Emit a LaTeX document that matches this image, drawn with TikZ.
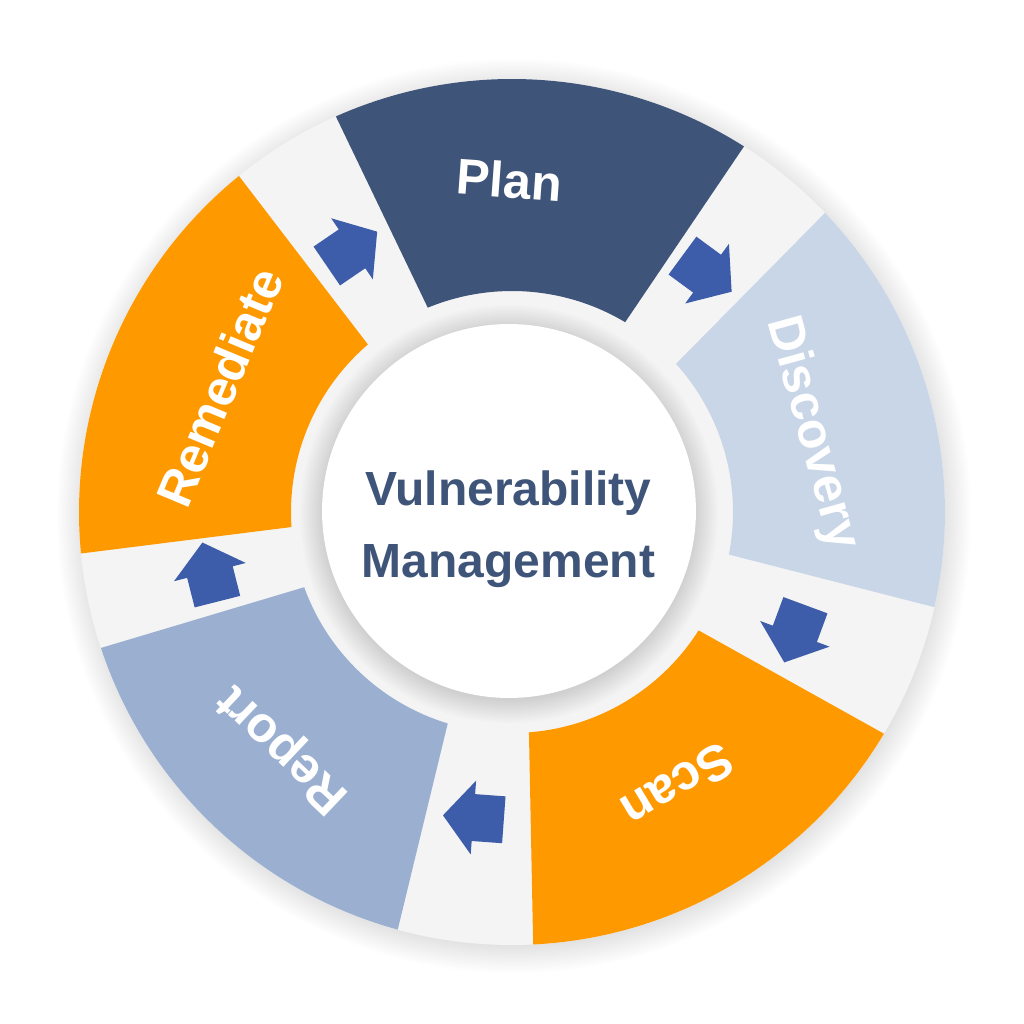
\documentclass[tikz,border=0pt]{standalone}
\usepackage{fontspec}
\setmainfont{Liberation Sans}
\definecolor{vmNavy}     {HTML}{3F5479}
\definecolor{vmSky}      {HTML}{C9D6E8}
\definecolor{vmOrange}   {HTML}{FF9900}
\definecolor{vmSteel}    {HTML}{9BB0D1}
\definecolor{vmArrow}    {HTML}{3D5CA9}
\definecolor{vmRing}     {HTML}{F4F4F4}

\begin{document}
\begin{tikzpicture}[
  x=0.02cm, y=0.02cm,
  lbl/.style  ={text=white, inner sep=0pt,
                font=\bfseries\fontsize{28.5}{34}\selectfont},
  title/.style={text=vmNavy, align=center, inner sep=0pt,
                font=\bfseries\fontsize{27.3}{41}\selectfont},
  flow/.style ={fill=vmArrow},
  core/.style ={circle, fill=white, inner sep=0pt, minimum size=7.48cm},
]
\fill[white] (-512,-512) rectangle (512,512);
\useasboundingbox (-512,-512) rectangle (512,512);

% soft shadow round the ring
\foreach \i in {1,...,16}
  \fill[black, opacity=0.006] (2,-4) circle[radius=425+2*\i];
\fill[vmRing] (0,0) circle[radius=433];

% phases: centre angle / colour
\foreach \a/\c in {85.8/vmNavy, 15.5/vmSky, -59/vmOrange,
                   226.5/vmSteel, 157.3/vmOrange}
  \fill[\c] ({\a+26.6}:221) arc[start angle=\a+26.6, end angle=\a-26.6, radius=221]
    -- ({\a-28.2}:433) arc[start angle=\a-28.2, end angle=\a+28.2, radius=433]
    -- cycle;

% block arrows in the gaps, pointing clockwise
\foreach \n/\p in {remplan/121.3, plandisc/50.7, discscan/-23.3,
                   scanrep/-97.2, reprem/-168.75} {
  \coordinate (\n) at (\p:308);
  \fill[flow, shift={(\n)}, rotate=\p-87]
    (-30.5,-23.5) -- (0,-23.5) -- (0,-37) -- (30.5,0)
    -- (0,37) -- (0,23.5) -- (-30.5,23.5) -- cycle;
}

% hub with its shadow
\foreach \i in {1,...,12}
  \fill[black, opacity=0.01] (-3,-2) circle[radius=185+2*\i];
\node[core] (hub) at (-3,1) {};
\node[title] (vm) at (-3.5,-17.5) {Vulnerability\\Management};

\node[lbl, rotate=-4.2]  (plan)      at (90.4:332)  {Plan};
\node[lbl, rotate=-74.5] (discovery) at (14.7:310)  {Discovery};
\node[lbl, rotate=-149]  (scan)      at (-58.8:320) {Scan};
\node[lbl, rotate=136.5] (report)    at (226:328)   {Report};
\node[lbl, rotate=67.3]  (remediate) at (156.9:318) {Remediate};

\end{tikzpicture}
\end{document}
